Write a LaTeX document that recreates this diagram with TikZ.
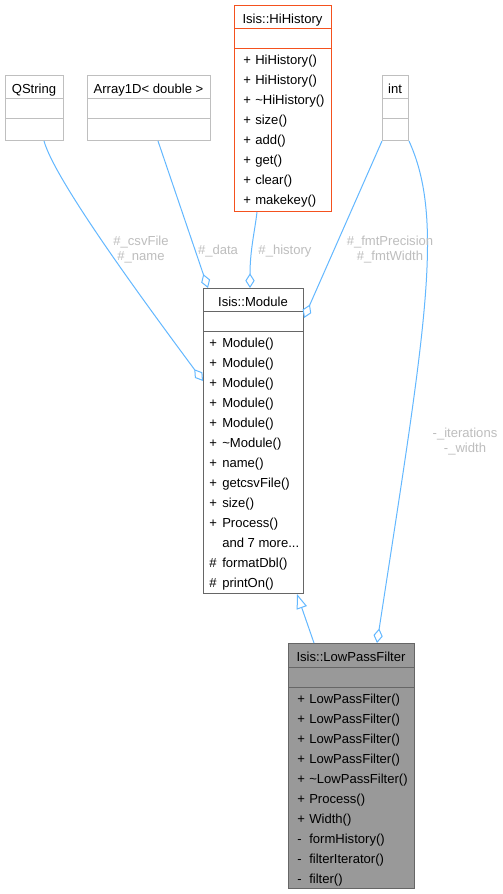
\documentclass[tikz,border=0pt]{standalone}
\usepackage{fontspec}
\setmainfont{Liberation Sans}
\usetikzlibrary{arrows.meta,calc}
\definecolor{edgeblue}{HTML}{63B8FF}
\definecolor{lblgray}{HTML}{BEBEBE}
\definecolor{boxgray}{HTML}{BFBFBF}
\definecolor{darkline}{HTML}{666666}
\definecolor{redline}{HTML}{F4511E}
\definecolor{lpfgray}{HTML}{999999}

\begin{document}
\begin{tikzpicture}[x=0.75pt,y=-0.75pt,>=Latex]
  \tikzstyle{every node}=[font=\fontsize{9.8}{15}\selectfont]
  \tikzstyle{cls}=[draw,inner sep=0pt,anchor=north west,line width=0.75pt]
  \tikzstyle{title}=[anchor=base,inner sep=0pt]
  \tikzstyle{rows}=[anchor=base west,align=left,inner sep=0pt]
  \tikzstyle{lbl}=[text=lblgray,align=center,inner sep=0pt,font=\fontsize{9.8}{11.25}\selectfont]
  \tikzstyle{aggr}=[draw=edgeblue,line width=0.75pt,{Diamond[open,length=11pt,width=7pt]}-]
  \tikzstyle{inh}=[draw=edgeblue,line width=0.75pt,{Triangle[open,length=11pt,width=8pt]}-]
  \path[fill=white,use as bounding box] (0,0) rectangle (503,894);

  % member types
  \node[cls,draw=boxgray,minimum width=43.5pt,minimum height=48.75pt] (qstring) at (5,75) {};
  \node[title] (qstringname) at (34,93) {QString};
  \draw[boxgray,line width=0.75pt] ($(qstring.north west)+(0,23)$) -- ($(qstring.north east)+(0,23)$);
  \draw[boxgray,line width=0.75pt] ($(qstring.north west)+(0,43)$) -- ($(qstring.north east)+(0,43)$);

  \node[cls,draw=boxgray,minimum width=92.25pt,minimum height=48.75pt] (array) at (87,75) {};
  \node[title] (arrayname) at (148.5,93) {Array1D< double >};
  \draw[boxgray,line width=0.75pt] ($(array.north west)+(0,23)$) -- ($(array.north east)+(0,23)$);
  \draw[boxgray,line width=0.75pt] ($(array.north west)+(0,43)$) -- ($(array.north east)+(0,43)$);

  \node[cls,draw=boxgray,minimum width=19.5pt,minimum height=48.75pt] (int) at (382,75) {};
  \node[title] (intname) at (395,93) {int};
  \draw[boxgray,line width=0.75pt] ($(int.north west)+(0,23)$) -- ($(int.north east)+(0,23)$);
  \draw[boxgray,line width=0.75pt] ($(int.north west)+(0,43)$) -- ($(int.north east)+(0,43)$);

  \node[cls,draw=redline,minimum width=72.75pt,minimum height=154.5pt] (hihistory) at (234,5) {};
  \node[title] (hihistoryname) at (282.5,23) {Isis::HiHistory};
  \draw[redline,line width=0.75pt] ($(hihistory.north west)+(0,23)$) -- ($(hihistory.north east)+(0,23)$);
  \draw[redline,line width=0.75pt] ($(hihistory.north west)+(0,43)$) -- ($(hihistory.north east)+(0,43)$);
  \node[rows] (hihistorymark) at (243,204) {+\\+\\+\\+\\+\\+\\+\\+};
  \node[rows] (hihistoryops) at (255,204) {HiHistory()\\HiHistory()\\\textasciitilde HiHistory()\\size()\\add()\\get()\\clear()\\makekey()};

  % base class
  \node[cls,draw=darkline,minimum width=75pt,minimum height=228.75pt] (module) at (203,288) {};
  \node[title] (modulename) at (253,306) {Isis::Module};
  \draw[darkline,line width=0.75pt] ($(module.north west)+(0,23)$) -- ($(module.north east)+(0,23)$);
  \draw[darkline,line width=0.75pt] ($(module.north west)+(0,43)$) -- ($(module.north east)+(0,43)$);
  \node[rows] (modulemark) at (209,587) {+\\+\\+\\+\\+\\+\\+\\+\\+\\+\\\mbox{}\\\#\\\#};
  \node[rows] (moduleops) at (222,587) {Module()\\Module()\\Module()\\Module()\\Module()\\\textasciitilde Module()\\name()\\getcsvFile()\\size()\\Process()\\and 7 more...\\formatDbl()\\printOn()};

  % this class
  \node[cls,draw=darkline,fill=lpfgray,minimum width=94.5pt,minimum height=183.75pt] (lpf) at (288,643) {};
  \node[title] (lpfname) at (351,661) {Isis::LowPassFilter};
  \draw[darkline,line width=0.75pt] ($(lpf.north west)+(0,24)$) -- ($(lpf.north east)+(0,24)$);
  \draw[darkline,line width=0.75pt] ($(lpf.north west)+(0,44)$) -- ($(lpf.north east)+(0,44)$);
  \node[rows] (lpfmark) at (297,883) {+\\+\\+\\+\\+\\+\\+\\-\\-\\-};
  \node[rows] (lpfops) at (309,883) {LowPassFilter()\\LowPassFilter()\\LowPassFilter()\\LowPassFilter()\\\textasciitilde LowPassFilter()\\Process()\\Width()\\formHistory()\\filterIterator()\\filter()};

  % connectors
  \draw[aggr] ($(module.north west)+(0,93)$) .. controls (140,296) and (55,180) .. ($(qstring.south west)+(39,0)$);
  \draw[aggr] ($(module.north west)+(5,0)$) -- ($(array.south west)+(71,0)$);
  \draw[aggr] ($(module.north west)+(47,0)$) .. controls (250,250) and (255,230) .. ($(hihistory.south west)+(23,0)$);
  \draw[aggr] ($(module.north east)+(0,30)$) -- (int.south west);
  \draw[aggr] ($(lpf.north west)+(89,0)$) .. controls (425,330) and (445,220) .. (int.south east);
  \draw[inh] ($(module.south west)+(94,0)$) -- ($(lpf.north west)+(26,0)$);

  \node[lbl] (lcsv) at (141,250) {\#\_csvFile\\\#\_name};
  \node[lbl] (ldata) at (218,251) {\#\_data};
  \node[lbl] (lhist) at (285,251) {\#\_history};
  \node[lbl] (lfmt) at (390,250) {\#\_fmtPrecision\\\#\_fmtWidth};
  \node[lbl] (liter) at (465,442) {-\_iterations\\-\_width};
\end{tikzpicture}
\end{document}
